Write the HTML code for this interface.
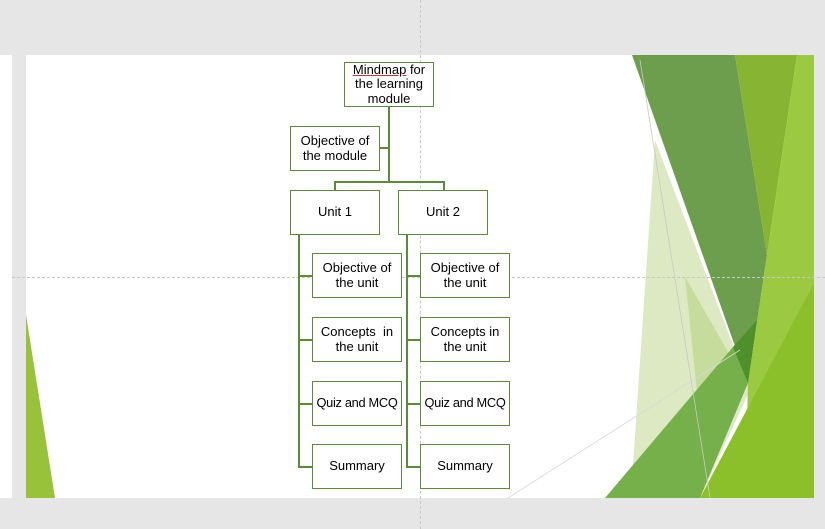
<!DOCTYPE html>
<html><head><meta charset="utf-8"><style>
html,body{margin:0;padding:0;width:825px;height:529px;overflow:hidden;background:#e6e6e6;}
.slide{position:absolute;left:26px;top:55px;width:788px;height:443px;background:#fff;overflow:hidden;}
.ruler{position:absolute;left:0;top:55px;width:12px;height:443px;background:#fff;}
.b{position:absolute;border:1.3px solid #5a8a3a;background:#fff;display:flex;align-items:center;justify-content:center;text-align:center;font-family:"Liberation Sans","DejaVu Sans",sans-serif;font-size:13px;line-height:14.5px;color:#000;box-sizing:border-box;width:90px;height:45px;white-space:nowrap;}
.q{letter-spacing:-0.3px;font-size:12.8px;}
.l{position:absolute;background:#5a8a3a;}
</style></head><body>
<div class="ruler"></div>
<div class="slide">
<svg width="788" height="443" style="position:absolute;left:0;top:0">
<g transform="translate(-26,-55)">
<polygon points="26,315 26,498 55,498" fill="#97c23a"/>
<polygon points="655,140 750,390 700,498 632,498 632,480" fill="#dce9c3"/>
<polygon points="685,277 750,390 733,347 700,420" fill="#c6dc9c"/>
<polygon points="632,55 735,55 767,255 748,383" fill="#6c9e4e"/>
<polygon points="735,55 797,55 767,255" fill="#87b432"/>
<polygon points="797,55 814,55 814,283 747,420 748,383 767,255" fill="#9bc941"/>
<polygon points="605,498 733,347 757,320 748,383 700,498" fill="#76b04a"/>
<polygon points="733,347 757,320 748,383" fill="#4f8f2c"/>
<polygon points="700,498 814,283 814,498" fill="#8cc02a"/>
<line x1="640" y1="60" x2="710" y2="498" stroke="#c8c8c8" stroke-width="0.8"/>
<line x1="508" y1="498" x2="740" y2="350" stroke="#d8d8d8" stroke-width="0.8"/>
</g></svg>
</div>
<div style="position:absolute;left:420px;top:0;height:529px;border-left:1px dashed #c8c8c8"></div>
<div style="position:absolute;left:12px;top:277px;width:813px;border-top:1px dashed #c8c8c8"></div>

<div class="l" style="left:388px;top:107px;width:2px;height:75px"></div>
<div class="l" style="left:380px;top:147px;width:9px;height:1.5px"></div>
<div class="l" style="left:334px;top:181px;width:110px;height:1.5px"></div>
<div class="l" style="left:334px;top:181px;width:1.5px;height:9px"></div>
<div class="l" style="left:443px;top:181px;width:1.5px;height:9px"></div>
<div class="l" style="left:298px;top:235px;width:1.5px;height:232px"></div>
<div class="l" style="left:406px;top:235px;width:1.5px;height:232px"></div>
<div class="l" style="left:298px;top:275px;width:14px;height:1.5px"></div>
<div class="l" style="left:298px;top:339px;width:14px;height:1.5px"></div>
<div class="l" style="left:298px;top:403px;width:14px;height:1.5px"></div>
<div class="l" style="left:298px;top:466px;width:14px;height:1.5px"></div>
<div class="l" style="left:406px;top:275px;width:14px;height:1.5px"></div>
<div class="l" style="left:406px;top:339px;width:14px;height:1.5px"></div>
<div class="l" style="left:406px;top:403px;width:14px;height:1.5px"></div>
<div class="l" style="left:406px;top:466px;width:14px;height:1.5px"></div>

<div class="b" style="left:344px;top:62px"><span><u style="text-decoration-color:#c33">Mindmap</u> for<br>the learning<br>module</span></div>
<div class="b" style="left:290px;top:126px">Objective of<br>the module</div>
<div class="b" style="left:290px;top:190px">Unit 1</div>
<div class="b" style="left:398px;top:190px">Unit 2</div>
<div class="b" style="left:312px;top:253px">Objective of<br>the unit</div>
<div class="b" style="left:312px;top:317px">Concepts &nbsp;in<br>the unit</div>
<div class="b q" style="left:312px;top:381px">Quiz and MCQ</div>
<div class="b" style="left:312px;top:444px">Summary</div>
<div class="b" style="left:420px;top:253px">Objective of<br>the unit</div>
<div class="b" style="left:420px;top:317px">Concepts in<br>the unit</div>
<div class="b q" style="left:420px;top:381px">Quiz and MCQ</div>
<div class="b" style="left:420px;top:444px">Summary</div>
</body></html>
